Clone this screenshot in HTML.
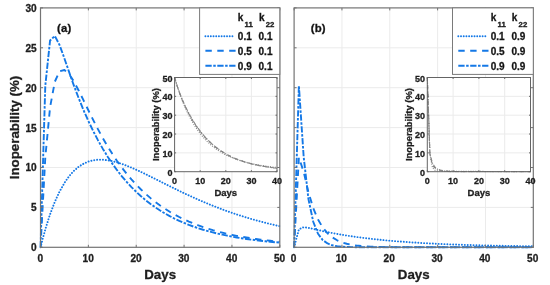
<!DOCTYPE html>
<html><head><meta charset="utf-8"><title>Inoperability</title>
<style>html,body{margin:0;padding:0;background:#fff;}svg{display:block;}</style></head>
<body>
<svg width="550" height="285" viewBox="0 0 550 285">
<rect x="0" y="0" width="550" height="285" fill="#fff"/>
<line x1="88.36" y1="7.9" x2="88.36" y2="247.3" stroke="#ebebeb" stroke-width="1"/>
<line x1="136.22" y1="7.9" x2="136.22" y2="247.3" stroke="#ebebeb" stroke-width="1"/>
<line x1="184.08" y1="7.9" x2="184.08" y2="247.3" stroke="#ebebeb" stroke-width="1"/>
<line x1="231.94" y1="7.9" x2="231.94" y2="247.3" stroke="#ebebeb" stroke-width="1"/>
<line x1="40.5" y1="207.40" x2="279.8" y2="207.40" stroke="#ebebeb" stroke-width="1"/>
<line x1="40.5" y1="167.50" x2="279.8" y2="167.50" stroke="#ebebeb" stroke-width="1"/>
<line x1="40.5" y1="127.60" x2="279.8" y2="127.60" stroke="#ebebeb" stroke-width="1"/>
<line x1="40.5" y1="87.70" x2="279.8" y2="87.70" stroke="#ebebeb" stroke-width="1"/>
<line x1="40.5" y1="47.80" x2="279.8" y2="47.80" stroke="#ebebeb" stroke-width="1"/>
<clipPath id="cpa"><rect x="39.5" y="7.9" width="241.3" height="240.9"/></clipPath>
<polyline clip-path="url(#cpa)" points="40.50,247.30 45.29,229.34 50.07,214.26 54.86,201.69 59.64,191.32 64.43,182.87 69.22,176.08 74.00,170.74 78.79,166.66 83.57,163.66 88.36,161.59 93.15,160.32 97.93,159.74 102.72,159.75 107.50,160.24 112.29,161.15 117.08,162.40 121.86,163.93 126.65,165.70 131.43,167.66 136.22,169.76 141.01,171.97 145.79,174.26 150.58,176.61 155.36,179.00 160.15,181.40 164.94,183.80 169.72,186.19 174.51,188.55 179.29,190.88 184.08,193.17 188.87,195.41 193.65,197.59 198.44,199.72 203.22,201.78 208.01,203.79 212.80,205.73 217.58,207.60 222.37,209.41 227.15,211.15 231.94,212.83 236.73,214.44 241.51,215.98 246.30,217.47 251.08,218.89 255.87,220.25 260.66,221.56 265.44,222.81 270.23,224.00 275.01,225.14 279.80,226.23" fill="none" stroke="#1478E6" stroke-width="1.95" stroke-dasharray="0.01 2.9" stroke-linejoin="round" stroke-linecap="round"/>
<polyline clip-path="url(#cpa)" points="40.50,247.30 45.29,157.53 50.07,107.25 54.86,81.62 59.64,71.21 64.43,70.04 69.22,74.33 74.00,81.73 78.79,90.73 83.57,100.43 88.36,110.26 93.15,119.90 97.93,129.15 102.72,137.92 107.50,146.15 112.29,153.83 117.08,160.98 121.86,167.61 126.65,173.76 131.43,179.44 136.22,184.69 141.01,189.53 145.79,194.01 150.58,198.14 155.36,201.95 160.15,205.47 164.94,208.72 169.72,211.71 174.51,214.47 179.29,217.02 184.08,219.37 188.87,221.54 193.65,223.54 198.44,225.38 203.22,227.08 208.01,228.65 212.80,230.10 217.58,231.43 222.37,232.66 227.15,233.80 231.94,234.85 236.73,235.81 241.51,236.71 246.30,237.53 251.08,238.29 255.87,238.99 260.66,239.63 265.44,240.23 270.23,240.78 275.01,241.28 279.80,241.75" fill="none" stroke="#1478E6" stroke-width="1.9" stroke-dasharray="6.4 5.5" stroke-linejoin="round"/>
<polyline clip-path="url(#cpa)" points="40.50,247.30 45.29,85.71 50.07,40.46 54.86,35.97 59.64,45.18 64.43,58.46 69.22,72.41 74.00,85.88 78.79,98.50 83.57,110.21 88.36,121.02 93.15,130.99 97.93,140.17 102.72,148.63 107.50,156.42 112.29,163.60 117.08,170.21 121.86,176.30 126.65,181.91 131.43,187.07 136.22,191.83 141.01,196.21 145.79,200.24 150.58,203.96 155.36,207.38 160.15,210.53 164.94,213.44 169.72,216.11 174.51,218.58 179.29,220.84 184.08,222.93 188.87,224.86 193.65,226.63 198.44,228.26 203.22,229.77 208.01,231.15 212.80,232.43 217.58,233.60 222.37,234.68 227.15,235.68 231.94,236.60 236.73,237.44 241.51,238.22 246.30,238.94 251.08,239.60 255.87,240.21 260.66,240.77 265.44,241.28 270.23,241.76 275.01,242.20 279.80,242.60" fill="none" stroke="#1478E6" stroke-width="1.9" stroke-dasharray="6.3 1.55 2.5 1.55" stroke-linejoin="round"/>
<rect x="40.5" y="7.9" width="239.3" height="239.4" fill="none" stroke="#747474" stroke-width="1.2"/>
<line x1="40.50" y1="247.3" x2="40.50" y2="244.8" stroke="#747474" stroke-width="1"/>
<line x1="40.50" y1="7.9" x2="40.50" y2="10.4" stroke="#747474" stroke-width="1"/>
<text x="40.30" y="261.9" font-size="10.1" text-anchor="middle" font-family="Liberation Sans, Arial, sans-serif" font-weight="bold" stroke="#1e1e1e" stroke-width="0.3" fill="#1e1e1e">0</text>
<line x1="88.36" y1="247.3" x2="88.36" y2="244.8" stroke="#747474" stroke-width="1"/>
<line x1="88.36" y1="7.9" x2="88.36" y2="10.4" stroke="#747474" stroke-width="1"/>
<text x="88.16" y="261.9" font-size="10.1" text-anchor="middle" font-family="Liberation Sans, Arial, sans-serif" font-weight="bold" stroke="#1e1e1e" stroke-width="0.3" fill="#1e1e1e">10</text>
<line x1="136.22" y1="247.3" x2="136.22" y2="244.8" stroke="#747474" stroke-width="1"/>
<line x1="136.22" y1="7.9" x2="136.22" y2="10.4" stroke="#747474" stroke-width="1"/>
<text x="136.02" y="261.9" font-size="10.1" text-anchor="middle" font-family="Liberation Sans, Arial, sans-serif" font-weight="bold" stroke="#1e1e1e" stroke-width="0.3" fill="#1e1e1e">20</text>
<line x1="184.08" y1="247.3" x2="184.08" y2="244.8" stroke="#747474" stroke-width="1"/>
<line x1="184.08" y1="7.9" x2="184.08" y2="10.4" stroke="#747474" stroke-width="1"/>
<text x="183.88" y="261.9" font-size="10.1" text-anchor="middle" font-family="Liberation Sans, Arial, sans-serif" font-weight="bold" stroke="#1e1e1e" stroke-width="0.3" fill="#1e1e1e">30</text>
<line x1="231.94" y1="247.3" x2="231.94" y2="244.8" stroke="#747474" stroke-width="1"/>
<line x1="231.94" y1="7.9" x2="231.94" y2="10.4" stroke="#747474" stroke-width="1"/>
<text x="231.74" y="261.9" font-size="10.1" text-anchor="middle" font-family="Liberation Sans, Arial, sans-serif" font-weight="bold" stroke="#1e1e1e" stroke-width="0.3" fill="#1e1e1e">40</text>
<line x1="279.80" y1="247.3" x2="279.80" y2="244.8" stroke="#747474" stroke-width="1"/>
<line x1="279.80" y1="7.9" x2="279.80" y2="10.4" stroke="#747474" stroke-width="1"/>
<text x="279.60" y="261.9" font-size="10.1" text-anchor="middle" font-family="Liberation Sans, Arial, sans-serif" font-weight="bold" stroke="#1e1e1e" stroke-width="0.3" fill="#1e1e1e">50</text>
<line x1="40.5" y1="247.30" x2="43.0" y2="247.30" stroke="#747474" stroke-width="1"/>
<line x1="279.8" y1="247.30" x2="277.3" y2="247.30" stroke="#747474" stroke-width="1"/>
<text x="36.70" y="251.20" font-size="10.1" text-anchor="end" font-family="Liberation Sans, Arial, sans-serif" font-weight="bold" stroke="#1e1e1e" stroke-width="0.3" fill="#1e1e1e">0</text>
<line x1="40.5" y1="207.40" x2="43.0" y2="207.40" stroke="#747474" stroke-width="1"/>
<line x1="279.8" y1="207.40" x2="277.3" y2="207.40" stroke="#747474" stroke-width="1"/>
<text x="36.70" y="211.30" font-size="10.1" text-anchor="end" font-family="Liberation Sans, Arial, sans-serif" font-weight="bold" stroke="#1e1e1e" stroke-width="0.3" fill="#1e1e1e">5</text>
<line x1="40.5" y1="167.50" x2="43.0" y2="167.50" stroke="#747474" stroke-width="1"/>
<line x1="279.8" y1="167.50" x2="277.3" y2="167.50" stroke="#747474" stroke-width="1"/>
<text x="36.70" y="171.40" font-size="10.1" text-anchor="end" font-family="Liberation Sans, Arial, sans-serif" font-weight="bold" stroke="#1e1e1e" stroke-width="0.3" fill="#1e1e1e">10</text>
<line x1="40.5" y1="127.60" x2="43.0" y2="127.60" stroke="#747474" stroke-width="1"/>
<line x1="279.8" y1="127.60" x2="277.3" y2="127.60" stroke="#747474" stroke-width="1"/>
<text x="36.70" y="131.50" font-size="10.1" text-anchor="end" font-family="Liberation Sans, Arial, sans-serif" font-weight="bold" stroke="#1e1e1e" stroke-width="0.3" fill="#1e1e1e">15</text>
<line x1="40.5" y1="87.70" x2="43.0" y2="87.70" stroke="#747474" stroke-width="1"/>
<line x1="279.8" y1="87.70" x2="277.3" y2="87.70" stroke="#747474" stroke-width="1"/>
<text x="36.70" y="91.60" font-size="10.1" text-anchor="end" font-family="Liberation Sans, Arial, sans-serif" font-weight="bold" stroke="#1e1e1e" stroke-width="0.3" fill="#1e1e1e">20</text>
<line x1="40.5" y1="47.80" x2="43.0" y2="47.80" stroke="#747474" stroke-width="1"/>
<line x1="279.8" y1="47.80" x2="277.3" y2="47.80" stroke="#747474" stroke-width="1"/>
<text x="36.70" y="51.70" font-size="10.1" text-anchor="end" font-family="Liberation Sans, Arial, sans-serif" font-weight="bold" stroke="#1e1e1e" stroke-width="0.3" fill="#1e1e1e">25</text>
<line x1="40.5" y1="7.90" x2="43.0" y2="7.90" stroke="#747474" stroke-width="1"/>
<line x1="279.8" y1="7.90" x2="277.3" y2="7.90" stroke="#747474" stroke-width="1"/>
<text x="36.70" y="11.80" font-size="10.1" text-anchor="end" font-family="Liberation Sans, Arial, sans-serif" font-weight="bold" stroke="#1e1e1e" stroke-width="0.3" fill="#1e1e1e">30</text>
<text x="160.15" y="279.1" font-size="13.3" text-anchor="middle" font-family="Liberation Sans, Arial, sans-serif" font-weight="bold" stroke="#1e1e1e" stroke-width="0.3" fill="#1e1e1e">Days</text>
<text x="57.10" y="32.2" font-size="11.4" letter-spacing="0.15" font-family="Liberation Sans, Arial, sans-serif" font-weight="bold" stroke="#1e1e1e" stroke-width="0.3" fill="#111">(a)</text>
<rect x="199.60" y="7.9" width="80.20" height="66.50" fill="#fff" stroke="#7a7a7a" stroke-width="1"/>
<text x="237.85" y="21" font-size="10" font-family="Liberation Sans, Arial, sans-serif" font-weight="bold" stroke="#1e1e1e" stroke-width="0.3" fill="#111">k<tspan font-size="7.8" dx="1.2" dy="5.6">11</tspan></text>
<text x="258.95" y="21" font-size="10" font-family="Liberation Sans, Arial, sans-serif" font-weight="bold" stroke="#1e1e1e" stroke-width="0.3" fill="#111">k<tspan font-size="7.8" dx="1.2" dy="5.6">22</tspan></text>
<line x1="205.40" y1="36.2" x2="234.00" y2="36.2" stroke="#1478E6" stroke-width="1.9" stroke-dasharray="0.05 2.65" stroke-linecap="round"/>
<text x="237.85" y="40.0" font-size="10" font-family="Liberation Sans, Arial, sans-serif" font-weight="bold" stroke="#1e1e1e" stroke-width="0.3" fill="#111">0.1</text>
<text x="258.55" y="40.0" font-size="10" font-family="Liberation Sans, Arial, sans-serif" font-weight="bold" stroke="#1e1e1e" stroke-width="0.3" fill="#111">0.1</text>
<line x1="205.40" y1="50.7" x2="235.60" y2="50.7" stroke="#1478E6" stroke-width="2" stroke-dasharray="6.4 5.5"/>
<text x="237.85" y="54.8" font-size="10" font-family="Liberation Sans, Arial, sans-serif" font-weight="bold" stroke="#1e1e1e" stroke-width="0.3" fill="#111">0.5</text>
<text x="258.55" y="54.8" font-size="10" font-family="Liberation Sans, Arial, sans-serif" font-weight="bold" stroke="#1e1e1e" stroke-width="0.3" fill="#111">0.1</text>
<line x1="205.40" y1="65.8" x2="235.60" y2="65.8" stroke="#1478E6" stroke-width="2" stroke-dasharray="6.3 1.55 2.5 1.55"/>
<text x="237.85" y="69.5" font-size="10" font-family="Liberation Sans, Arial, sans-serif" font-weight="bold" stroke="#1e1e1e" stroke-width="0.3" fill="#111">0.9</text>
<text x="258.55" y="69.5" font-size="10" font-family="Liberation Sans, Arial, sans-serif" font-weight="bold" stroke="#1e1e1e" stroke-width="0.3" fill="#111">0.1</text>
<rect x="174.60" y="77.5" width="102.40" height="94.20" fill="#fff"/>
<line x1="200.20" y1="77.5" x2="200.20" y2="171.7" stroke="#ebebeb" stroke-width="1"/>
<line x1="225.80" y1="77.5" x2="225.80" y2="171.7" stroke="#ebebeb" stroke-width="1"/>
<line x1="251.40" y1="77.5" x2="251.40" y2="171.7" stroke="#ebebeb" stroke-width="1"/>
<line x1="174.60" y1="152.86" x2="277.00" y2="152.86" stroke="#ebebeb" stroke-width="1"/>
<line x1="174.60" y1="134.02" x2="277.00" y2="134.02" stroke="#ebebeb" stroke-width="1"/>
<line x1="174.60" y1="115.18" x2="277.00" y2="115.18" stroke="#ebebeb" stroke-width="1"/>
<line x1="174.60" y1="96.34" x2="277.00" y2="96.34" stroke="#ebebeb" stroke-width="1"/>
<clipPath id="cia"><rect x="173.60" y="77.0" width="103.90" height="95.40"/></clipPath>
<polyline clip-path="url(#cia)" points="174.60,77.50 177.16,85.98 179.72,93.63 182.28,100.54 184.84,106.78 187.40,112.43 189.96,117.53 192.52,122.16 195.08,126.34 197.64,130.14 200.20,133.58 202.76,136.71 205.32,139.55 207.88,142.14 210.44,144.49 213.00,146.63 215.56,148.58 218.12,150.36 220.68,151.98 223.24,153.47 225.80,154.83 228.36,156.07 230.92,157.21 233.48,158.26 236.04,159.22 238.60,160.10 241.16,160.91 243.72,161.66 246.28,162.34 248.84,162.98 251.40,163.56 253.96,164.10 256.52,164.60 259.08,165.07 261.64,165.49 264.20,165.89 266.76,166.26 269.32,166.60 271.88,166.92 274.44,167.22 277.00,167.49" fill="none" stroke="#858585" stroke-width="1.15" stroke-dasharray="1 1.4"/>
<polyline clip-path="url(#cia)" points="174.60,77.50 177.16,85.98 179.72,93.38 182.28,99.93 184.84,105.80 187.40,111.11 189.96,115.93 192.52,120.34 195.08,124.38 197.64,128.08 200.20,131.49 202.76,134.62 205.32,137.51 207.88,140.17 210.44,142.62 213.00,144.88 215.56,146.96 218.12,148.88 220.68,150.65 223.24,152.29 225.80,153.79 228.36,155.18 230.92,156.46 233.48,157.65 236.04,158.74 238.60,159.74 241.16,160.67 243.72,161.53 246.28,162.32 248.84,163.05 251.40,163.72 253.96,164.34 256.52,164.91 259.08,165.44 261.64,165.92 264.20,166.37 266.76,166.78 269.32,167.17 271.88,167.52 274.44,167.84 277.00,168.14" fill="none" stroke="#858585" stroke-width="1.15" stroke-dasharray="4 3.4"/>
<polyline clip-path="url(#cia)" points="174.60,77.50 177.16,85.98 179.72,93.12 182.28,99.46 184.84,105.21 187.40,110.48 189.96,115.32 192.52,119.78 195.08,123.88 197.64,127.66 200.20,131.13 202.76,134.34 205.32,137.29 207.88,140.01 210.44,142.51 213.00,144.81 215.56,146.94 218.12,148.89 220.68,150.69 223.24,152.35 225.80,153.88 228.36,155.29 230.92,156.58 233.48,157.78 236.04,158.88 238.60,159.89 241.16,160.82 243.72,161.68 246.28,162.47 248.84,163.20 251.40,163.87 253.96,164.49 256.52,165.06 259.08,165.58 261.64,166.07 264.20,166.51 266.76,166.92 269.32,167.30 271.88,167.65 274.44,167.97 277.00,168.26" fill="none" stroke="#858585" stroke-width="1.15" stroke-dasharray="4 1.4 1.2 1.4"/>
<rect x="174.60" y="77.5" width="102.40" height="94.20" fill="none" stroke="#646464" stroke-width="1"/>
<line x1="174.60" y1="171.7" x2="174.60" y2="170.2" stroke="#646464" stroke-width="1"/>
<line x1="174.60" y1="77.5" x2="174.60" y2="79.0" stroke="#646464" stroke-width="1"/>
<text x="174.60" y="183.9" font-size="9" text-anchor="middle" font-family="Liberation Sans, Arial, sans-serif" font-weight="bold" stroke="#1e1e1e" stroke-width="0.3" fill="#1e1e1e">0</text>
<line x1="200.20" y1="171.7" x2="200.20" y2="170.2" stroke="#646464" stroke-width="1"/>
<line x1="200.20" y1="77.5" x2="200.20" y2="79.0" stroke="#646464" stroke-width="1"/>
<text x="200.20" y="183.9" font-size="9" text-anchor="middle" font-family="Liberation Sans, Arial, sans-serif" font-weight="bold" stroke="#1e1e1e" stroke-width="0.3" fill="#1e1e1e">10</text>
<line x1="225.80" y1="171.7" x2="225.80" y2="170.2" stroke="#646464" stroke-width="1"/>
<line x1="225.80" y1="77.5" x2="225.80" y2="79.0" stroke="#646464" stroke-width="1"/>
<text x="225.80" y="183.9" font-size="9" text-anchor="middle" font-family="Liberation Sans, Arial, sans-serif" font-weight="bold" stroke="#1e1e1e" stroke-width="0.3" fill="#1e1e1e">20</text>
<line x1="251.40" y1="171.7" x2="251.40" y2="170.2" stroke="#646464" stroke-width="1"/>
<line x1="251.40" y1="77.5" x2="251.40" y2="79.0" stroke="#646464" stroke-width="1"/>
<text x="251.40" y="183.9" font-size="9" text-anchor="middle" font-family="Liberation Sans, Arial, sans-serif" font-weight="bold" stroke="#1e1e1e" stroke-width="0.3" fill="#1e1e1e">30</text>
<line x1="277.00" y1="171.7" x2="277.00" y2="170.2" stroke="#646464" stroke-width="1"/>
<line x1="277.00" y1="77.5" x2="277.00" y2="79.0" stroke="#646464" stroke-width="1"/>
<text x="277.00" y="183.9" font-size="9" text-anchor="middle" font-family="Liberation Sans, Arial, sans-serif" font-weight="bold" stroke="#1e1e1e" stroke-width="0.3" fill="#1e1e1e">40</text>
<line x1="174.60" y1="171.70" x2="176.10" y2="171.70" stroke="#646464" stroke-width="1"/>
<line x1="277.00" y1="171.70" x2="275.50" y2="171.70" stroke="#646464" stroke-width="1"/>
<text x="172.40" y="175.70" font-size="9" text-anchor="end" font-family="Liberation Sans, Arial, sans-serif" font-weight="bold" stroke="#1e1e1e" stroke-width="0.3" fill="#1e1e1e">0</text>
<line x1="174.60" y1="152.86" x2="176.10" y2="152.86" stroke="#646464" stroke-width="1"/>
<line x1="277.00" y1="152.86" x2="275.50" y2="152.86" stroke="#646464" stroke-width="1"/>
<text x="172.40" y="156.86" font-size="9" text-anchor="end" font-family="Liberation Sans, Arial, sans-serif" font-weight="bold" stroke="#1e1e1e" stroke-width="0.3" fill="#1e1e1e">10</text>
<line x1="174.60" y1="134.02" x2="176.10" y2="134.02" stroke="#646464" stroke-width="1"/>
<line x1="277.00" y1="134.02" x2="275.50" y2="134.02" stroke="#646464" stroke-width="1"/>
<text x="172.40" y="138.02" font-size="9" text-anchor="end" font-family="Liberation Sans, Arial, sans-serif" font-weight="bold" stroke="#1e1e1e" stroke-width="0.3" fill="#1e1e1e">20</text>
<line x1="174.60" y1="115.18" x2="176.10" y2="115.18" stroke="#646464" stroke-width="1"/>
<line x1="277.00" y1="115.18" x2="275.50" y2="115.18" stroke="#646464" stroke-width="1"/>
<text x="172.40" y="119.18" font-size="9" text-anchor="end" font-family="Liberation Sans, Arial, sans-serif" font-weight="bold" stroke="#1e1e1e" stroke-width="0.3" fill="#1e1e1e">30</text>
<line x1="174.60" y1="96.34" x2="176.10" y2="96.34" stroke="#646464" stroke-width="1"/>
<line x1="277.00" y1="96.34" x2="275.50" y2="96.34" stroke="#646464" stroke-width="1"/>
<text x="172.40" y="100.34" font-size="9" text-anchor="end" font-family="Liberation Sans, Arial, sans-serif" font-weight="bold" stroke="#1e1e1e" stroke-width="0.3" fill="#1e1e1e">40</text>
<line x1="174.60" y1="77.50" x2="176.10" y2="77.50" stroke="#646464" stroke-width="1"/>
<line x1="277.00" y1="77.50" x2="275.50" y2="77.50" stroke="#646464" stroke-width="1"/>
<text x="172.40" y="81.50" font-size="9" text-anchor="end" font-family="Liberation Sans, Arial, sans-serif" font-weight="bold" stroke="#1e1e1e" stroke-width="0.3" fill="#1e1e1e">50</text>
<text x="225.80" y="196.2" font-size="9.5" text-anchor="middle" font-family="Liberation Sans, Arial, sans-serif" font-weight="bold" stroke="#1e1e1e" stroke-width="0.3" fill="#1e1e1e">Days</text>
<text transform="translate(159.00,124.60) rotate(-90)" font-size="9.4" text-anchor="middle" font-family="Liberation Sans, Arial, sans-serif" font-weight="bold" stroke="#1e1e1e" stroke-width="0.3" fill="#1e1e1e">Inoperability (%)</text>
<line x1="341.94" y1="7.9" x2="341.94" y2="247.3" stroke="#ebebeb" stroke-width="1"/>
<line x1="389.78" y1="7.9" x2="389.78" y2="247.3" stroke="#ebebeb" stroke-width="1"/>
<line x1="437.62" y1="7.9" x2="437.62" y2="247.3" stroke="#ebebeb" stroke-width="1"/>
<line x1="485.46" y1="7.9" x2="485.46" y2="247.3" stroke="#ebebeb" stroke-width="1"/>
<line x1="294.1" y1="207.40" x2="533.3" y2="207.40" stroke="#ebebeb" stroke-width="1"/>
<line x1="294.1" y1="167.50" x2="533.3" y2="167.50" stroke="#ebebeb" stroke-width="1"/>
<line x1="294.1" y1="127.60" x2="533.3" y2="127.60" stroke="#ebebeb" stroke-width="1"/>
<line x1="294.1" y1="87.70" x2="533.3" y2="87.70" stroke="#ebebeb" stroke-width="1"/>
<line x1="294.1" y1="47.80" x2="533.3" y2="47.80" stroke="#ebebeb" stroke-width="1"/>
<clipPath id="cpb"><rect x="293.1" y="7.9" width="241.19999999999993" height="240.9"/></clipPath>
<polyline clip-path="url(#cpb)" points="294.10,247.30 298.88,229.34 303.67,227.19 308.45,227.84 313.24,228.94 318.02,230.05 322.80,231.12 327.59,232.12 332.37,233.06 337.16,233.94 341.94,234.77 346.72,235.54 351.51,236.27 356.29,236.95 361.08,237.59 365.86,238.19 370.64,238.76 375.43,239.28 380.21,239.78 385.00,240.25 389.78,240.68 394.56,241.09 399.35,241.48 404.13,241.84 408.92,242.17 413.70,242.49 418.48,242.79 423.27,243.07 428.05,243.33 432.84,243.58 437.62,243.81 442.40,244.02 447.19,244.23 451.97,244.42 456.76,244.59 461.54,244.76 466.32,244.92 471.11,245.07 475.89,245.20 480.68,245.33 485.46,245.46 490.24,245.57 495.03,245.68 499.81,245.78 504.60,245.87 509.38,245.96 514.16,246.04 518.95,246.12 523.73,246.19 528.52,246.26 533.30,246.33" fill="none" stroke="#1478E6" stroke-width="1.95" stroke-dasharray="0.01 2.9" stroke-linejoin="round" stroke-linecap="round"/>
<polyline clip-path="url(#cpb)" points="294.10,247.30 298.88,157.53 303.67,171.89 308.45,192.32 313.24,208.14 318.02,219.52 322.80,227.61 327.59,233.35 332.37,237.42 337.16,240.30 341.94,242.34 346.72,243.78 351.51,244.81 356.29,245.53 361.08,246.05 365.86,246.41 370.64,246.67 375.43,246.85 380.21,246.98 385.00,247.08 389.78,247.14 394.56,247.19 399.35,247.22 404.13,247.24 408.92,247.26 413.70,247.27 418.48,247.28 423.27,247.29 428.05,247.29 432.84,247.29 437.62,247.29 442.40,247.30 447.19,247.30 451.97,247.30 456.76,247.30 461.54,247.30 466.32,247.30 471.11,247.30 475.89,247.30 480.68,247.30 485.46,247.30 490.24,247.30 495.03,247.30 499.81,247.30 504.60,247.30 509.38,247.30 514.16,247.30 518.95,247.30 523.73,247.30 528.52,247.30 533.30,247.30" fill="none" stroke="#1478E6" stroke-width="1.9" stroke-dasharray="6.4 5.5" stroke-linejoin="round"/>
<polyline clip-path="url(#cpb)" points="294.10,247.30 298.88,85.71 303.67,156.81 308.45,199.15 313.24,221.75 318.02,233.74 322.80,240.11 327.59,243.48 332.37,245.28 337.16,246.23 341.94,246.73 346.72,247.00 351.51,247.14 356.29,247.21 361.08,247.25 365.86,247.28 370.64,247.29 375.43,247.29 380.21,247.30 385.00,247.30 389.78,247.30 394.56,247.30 399.35,247.30 404.13,247.30 408.92,247.30 413.70,247.30 418.48,247.30 423.27,247.30 428.05,247.30 432.84,247.30 437.62,247.30 442.40,247.30 447.19,247.30 451.97,247.30 456.76,247.30 461.54,247.30 466.32,247.30 471.11,247.30 475.89,247.30 480.68,247.30 485.46,247.30 490.24,247.30 495.03,247.30 499.81,247.30 504.60,247.30 509.38,247.30 514.16,247.30 518.95,247.30 523.73,247.30 528.52,247.30 533.30,247.30" fill="none" stroke="#1478E6" stroke-width="1.9" stroke-dasharray="6.3 1.55 2.5 1.55" stroke-linejoin="round"/>
<rect x="294.1" y="7.9" width="239.19999999999993" height="239.4" fill="none" stroke="#747474" stroke-width="1.2"/>
<line x1="294.10" y1="247.3" x2="294.10" y2="244.8" stroke="#747474" stroke-width="1"/>
<line x1="294.10" y1="7.9" x2="294.10" y2="10.4" stroke="#747474" stroke-width="1"/>
<text x="293.50" y="261.9" font-size="10.1" text-anchor="middle" font-family="Liberation Sans, Arial, sans-serif" font-weight="bold" stroke="#1e1e1e" stroke-width="0.3" fill="#1e1e1e">0</text>
<line x1="341.94" y1="247.3" x2="341.94" y2="244.8" stroke="#747474" stroke-width="1"/>
<line x1="341.94" y1="7.9" x2="341.94" y2="10.4" stroke="#747474" stroke-width="1"/>
<text x="341.34" y="261.9" font-size="10.1" text-anchor="middle" font-family="Liberation Sans, Arial, sans-serif" font-weight="bold" stroke="#1e1e1e" stroke-width="0.3" fill="#1e1e1e">10</text>
<line x1="389.78" y1="247.3" x2="389.78" y2="244.8" stroke="#747474" stroke-width="1"/>
<line x1="389.78" y1="7.9" x2="389.78" y2="10.4" stroke="#747474" stroke-width="1"/>
<text x="389.18" y="261.9" font-size="10.1" text-anchor="middle" font-family="Liberation Sans, Arial, sans-serif" font-weight="bold" stroke="#1e1e1e" stroke-width="0.3" fill="#1e1e1e">20</text>
<line x1="437.62" y1="247.3" x2="437.62" y2="244.8" stroke="#747474" stroke-width="1"/>
<line x1="437.62" y1="7.9" x2="437.62" y2="10.4" stroke="#747474" stroke-width="1"/>
<text x="437.02" y="261.9" font-size="10.1" text-anchor="middle" font-family="Liberation Sans, Arial, sans-serif" font-weight="bold" stroke="#1e1e1e" stroke-width="0.3" fill="#1e1e1e">30</text>
<line x1="485.46" y1="247.3" x2="485.46" y2="244.8" stroke="#747474" stroke-width="1"/>
<line x1="485.46" y1="7.9" x2="485.46" y2="10.4" stroke="#747474" stroke-width="1"/>
<text x="484.86" y="261.9" font-size="10.1" text-anchor="middle" font-family="Liberation Sans, Arial, sans-serif" font-weight="bold" stroke="#1e1e1e" stroke-width="0.3" fill="#1e1e1e">40</text>
<line x1="533.30" y1="247.3" x2="533.30" y2="244.8" stroke="#747474" stroke-width="1"/>
<line x1="533.30" y1="7.9" x2="533.30" y2="10.4" stroke="#747474" stroke-width="1"/>
<text x="532.70" y="261.9" font-size="10.1" text-anchor="middle" font-family="Liberation Sans, Arial, sans-serif" font-weight="bold" stroke="#1e1e1e" stroke-width="0.3" fill="#1e1e1e">50</text>
<line x1="294.1" y1="247.30" x2="296.6" y2="247.30" stroke="#747474" stroke-width="1"/>
<line x1="533.3" y1="247.30" x2="530.8" y2="247.30" stroke="#747474" stroke-width="1"/>
<line x1="294.1" y1="207.40" x2="296.6" y2="207.40" stroke="#747474" stroke-width="1"/>
<line x1="533.3" y1="207.40" x2="530.8" y2="207.40" stroke="#747474" stroke-width="1"/>
<line x1="294.1" y1="167.50" x2="296.6" y2="167.50" stroke="#747474" stroke-width="1"/>
<line x1="533.3" y1="167.50" x2="530.8" y2="167.50" stroke="#747474" stroke-width="1"/>
<line x1="294.1" y1="127.60" x2="296.6" y2="127.60" stroke="#747474" stroke-width="1"/>
<line x1="533.3" y1="127.60" x2="530.8" y2="127.60" stroke="#747474" stroke-width="1"/>
<line x1="294.1" y1="87.70" x2="296.6" y2="87.70" stroke="#747474" stroke-width="1"/>
<line x1="533.3" y1="87.70" x2="530.8" y2="87.70" stroke="#747474" stroke-width="1"/>
<line x1="294.1" y1="47.80" x2="296.6" y2="47.80" stroke="#747474" stroke-width="1"/>
<line x1="533.3" y1="47.80" x2="530.8" y2="47.80" stroke="#747474" stroke-width="1"/>
<line x1="294.1" y1="7.90" x2="296.6" y2="7.90" stroke="#747474" stroke-width="1"/>
<line x1="533.3" y1="7.90" x2="530.8" y2="7.90" stroke="#747474" stroke-width="1"/>
<text x="413.70" y="279.1" font-size="13.3" text-anchor="middle" font-family="Liberation Sans, Arial, sans-serif" font-weight="bold" stroke="#1e1e1e" stroke-width="0.3" fill="#1e1e1e">Days</text>
<text x="310.70" y="32.2" font-size="11.4" letter-spacing="0.15" font-family="Liberation Sans, Arial, sans-serif" font-weight="bold" stroke="#1e1e1e" stroke-width="0.3" fill="#111">(b)</text>
<rect x="452.50" y="7.9" width="80.80" height="66.50" fill="#fff" stroke="#7a7a7a" stroke-width="1"/>
<text x="490.75" y="21" font-size="10" font-family="Liberation Sans, Arial, sans-serif" font-weight="bold" stroke="#1e1e1e" stroke-width="0.3" fill="#111">k<tspan font-size="7.8" dx="1.2" dy="5.6">11</tspan></text>
<text x="511.85" y="21" font-size="10" font-family="Liberation Sans, Arial, sans-serif" font-weight="bold" stroke="#1e1e1e" stroke-width="0.3" fill="#111">k<tspan font-size="7.8" dx="1.2" dy="5.6">22</tspan></text>
<line x1="458.30" y1="36.2" x2="486.90" y2="36.2" stroke="#1478E6" stroke-width="1.9" stroke-dasharray="0.05 2.65" stroke-linecap="round"/>
<text x="490.75" y="40.0" font-size="10" font-family="Liberation Sans, Arial, sans-serif" font-weight="bold" stroke="#1e1e1e" stroke-width="0.3" fill="#111">0.1</text>
<text x="511.45" y="40.0" font-size="10" font-family="Liberation Sans, Arial, sans-serif" font-weight="bold" stroke="#1e1e1e" stroke-width="0.3" fill="#111">0.9</text>
<line x1="458.30" y1="50.7" x2="488.50" y2="50.7" stroke="#1478E6" stroke-width="2" stroke-dasharray="6.4 5.5"/>
<text x="490.75" y="54.8" font-size="10" font-family="Liberation Sans, Arial, sans-serif" font-weight="bold" stroke="#1e1e1e" stroke-width="0.3" fill="#111">0.5</text>
<text x="511.45" y="54.8" font-size="10" font-family="Liberation Sans, Arial, sans-serif" font-weight="bold" stroke="#1e1e1e" stroke-width="0.3" fill="#111">0.9</text>
<line x1="458.30" y1="65.8" x2="488.50" y2="65.8" stroke="#1478E6" stroke-width="2" stroke-dasharray="6.3 1.55 2.5 1.55"/>
<text x="490.75" y="69.5" font-size="10" font-family="Liberation Sans, Arial, sans-serif" font-weight="bold" stroke="#1e1e1e" stroke-width="0.3" fill="#111">0.9</text>
<text x="511.45" y="69.5" font-size="10" font-family="Liberation Sans, Arial, sans-serif" font-weight="bold" stroke="#1e1e1e" stroke-width="0.3" fill="#111">0.9</text>
<rect x="427.30" y="77.5" width="103.20" height="94.20" fill="#fff"/>
<line x1="453.10" y1="77.5" x2="453.10" y2="171.7" stroke="#ebebeb" stroke-width="1"/>
<line x1="478.90" y1="77.5" x2="478.90" y2="171.7" stroke="#ebebeb" stroke-width="1"/>
<line x1="504.70" y1="77.5" x2="504.70" y2="171.7" stroke="#ebebeb" stroke-width="1"/>
<line x1="427.30" y1="152.86" x2="530.50" y2="152.86" stroke="#ebebeb" stroke-width="1"/>
<line x1="427.30" y1="134.02" x2="530.50" y2="134.02" stroke="#ebebeb" stroke-width="1"/>
<line x1="427.30" y1="115.18" x2="530.50" y2="115.18" stroke="#ebebeb" stroke-width="1"/>
<line x1="427.30" y1="96.34" x2="530.50" y2="96.34" stroke="#ebebeb" stroke-width="1"/>
<clipPath id="cib"><rect x="426.30" y="77.0" width="104.70" height="95.40"/></clipPath>
<polyline clip-path="url(#cib)" points="427.30,77.50 429.88,153.80 432.46,167.73 435.04,170.30 437.62,170.81 440.20,170.95 442.78,171.01 445.36,171.05 447.94,171.09 450.52,171.13 453.10,171.17 455.68,171.20 458.26,171.23 460.84,171.26 463.42,171.29 466.00,171.31 468.58,171.34 471.16,171.36 473.74,171.38 476.32,171.40 478.90,171.42 481.48,171.44 484.06,171.45 486.64,171.47 489.22,171.48 491.80,171.50 494.38,171.51 496.96,171.52 499.54,171.53 502.12,171.54 504.70,171.55 507.28,171.56 509.86,171.57 512.44,171.58 515.02,171.58 517.60,171.59 520.18,171.60 522.76,171.60 525.34,171.61 527.92,171.62 530.50,171.62" fill="none" stroke="#858585" stroke-width="1.15" stroke-dasharray="1 1.4"/>
<polyline clip-path="url(#cib)" points="427.30,77.50 429.88,153.80 432.46,165.44 435.04,168.11 437.62,169.26 440.20,169.99 442.78,170.49 445.36,170.84 447.94,171.09 450.52,171.27 453.10,171.39 455.68,171.48 458.26,171.55 460.84,171.59 463.42,171.62 466.00,171.65 468.58,171.66 471.16,171.67 473.74,171.68 476.32,171.69 478.90,171.69 481.48,171.69 484.06,171.70 486.64,171.70 489.22,171.70 491.80,171.70 494.38,171.70 496.96,171.70 499.54,171.70 502.12,171.70 504.70,171.70 507.28,171.70 509.86,171.70 512.44,171.70 515.02,171.70 517.60,171.70 520.18,171.70 522.76,171.70 525.34,171.70 527.92,171.70 530.50,171.70" fill="none" stroke="#858585" stroke-width="1.15" stroke-dasharray="4 3.4"/>
<polyline clip-path="url(#cib)" points="427.30,77.50 429.88,153.80 432.46,163.15 435.04,167.19 437.62,169.31 440.20,170.43 442.78,171.03 445.36,171.34 447.94,171.51 450.52,171.60 453.10,171.65 455.68,171.67 458.26,171.68 460.84,171.69 463.42,171.70 466.00,171.70 468.58,171.70 471.16,171.70 473.74,171.70 476.32,171.70 478.90,171.70 481.48,171.70 484.06,171.70 486.64,171.70 489.22,171.70 491.80,171.70 494.38,171.70 496.96,171.70 499.54,171.70 502.12,171.70 504.70,171.70 507.28,171.70 509.86,171.70 512.44,171.70 515.02,171.70 517.60,171.70 520.18,171.70 522.76,171.70 525.34,171.70 527.92,171.70 530.50,171.70" fill="none" stroke="#858585" stroke-width="1.15" stroke-dasharray="4 1.4 1.2 1.4"/>
<rect x="427.30" y="77.5" width="103.20" height="94.20" fill="none" stroke="#646464" stroke-width="1"/>
<line x1="427.30" y1="171.7" x2="427.30" y2="170.2" stroke="#646464" stroke-width="1"/>
<line x1="427.30" y1="77.5" x2="427.30" y2="79.0" stroke="#646464" stroke-width="1"/>
<text x="427.30" y="183.9" font-size="9" text-anchor="middle" font-family="Liberation Sans, Arial, sans-serif" font-weight="bold" stroke="#1e1e1e" stroke-width="0.3" fill="#1e1e1e">0</text>
<line x1="453.10" y1="171.7" x2="453.10" y2="170.2" stroke="#646464" stroke-width="1"/>
<line x1="453.10" y1="77.5" x2="453.10" y2="79.0" stroke="#646464" stroke-width="1"/>
<text x="453.10" y="183.9" font-size="9" text-anchor="middle" font-family="Liberation Sans, Arial, sans-serif" font-weight="bold" stroke="#1e1e1e" stroke-width="0.3" fill="#1e1e1e">10</text>
<line x1="478.90" y1="171.7" x2="478.90" y2="170.2" stroke="#646464" stroke-width="1"/>
<line x1="478.90" y1="77.5" x2="478.90" y2="79.0" stroke="#646464" stroke-width="1"/>
<text x="478.90" y="183.9" font-size="9" text-anchor="middle" font-family="Liberation Sans, Arial, sans-serif" font-weight="bold" stroke="#1e1e1e" stroke-width="0.3" fill="#1e1e1e">20</text>
<line x1="504.70" y1="171.7" x2="504.70" y2="170.2" stroke="#646464" stroke-width="1"/>
<line x1="504.70" y1="77.5" x2="504.70" y2="79.0" stroke="#646464" stroke-width="1"/>
<text x="504.70" y="183.9" font-size="9" text-anchor="middle" font-family="Liberation Sans, Arial, sans-serif" font-weight="bold" stroke="#1e1e1e" stroke-width="0.3" fill="#1e1e1e">30</text>
<line x1="530.50" y1="171.7" x2="530.50" y2="170.2" stroke="#646464" stroke-width="1"/>
<line x1="530.50" y1="77.5" x2="530.50" y2="79.0" stroke="#646464" stroke-width="1"/>
<text x="530.50" y="183.9" font-size="9" text-anchor="middle" font-family="Liberation Sans, Arial, sans-serif" font-weight="bold" stroke="#1e1e1e" stroke-width="0.3" fill="#1e1e1e">40</text>
<line x1="427.30" y1="171.70" x2="428.80" y2="171.70" stroke="#646464" stroke-width="1"/>
<line x1="530.50" y1="171.70" x2="529.00" y2="171.70" stroke="#646464" stroke-width="1"/>
<text x="425.10" y="175.70" font-size="9" text-anchor="end" font-family="Liberation Sans, Arial, sans-serif" font-weight="bold" stroke="#1e1e1e" stroke-width="0.3" fill="#1e1e1e">0</text>
<line x1="427.30" y1="152.86" x2="428.80" y2="152.86" stroke="#646464" stroke-width="1"/>
<line x1="530.50" y1="152.86" x2="529.00" y2="152.86" stroke="#646464" stroke-width="1"/>
<text x="425.10" y="156.86" font-size="9" text-anchor="end" font-family="Liberation Sans, Arial, sans-serif" font-weight="bold" stroke="#1e1e1e" stroke-width="0.3" fill="#1e1e1e">10</text>
<line x1="427.30" y1="134.02" x2="428.80" y2="134.02" stroke="#646464" stroke-width="1"/>
<line x1="530.50" y1="134.02" x2="529.00" y2="134.02" stroke="#646464" stroke-width="1"/>
<text x="425.10" y="138.02" font-size="9" text-anchor="end" font-family="Liberation Sans, Arial, sans-serif" font-weight="bold" stroke="#1e1e1e" stroke-width="0.3" fill="#1e1e1e">20</text>
<line x1="427.30" y1="115.18" x2="428.80" y2="115.18" stroke="#646464" stroke-width="1"/>
<line x1="530.50" y1="115.18" x2="529.00" y2="115.18" stroke="#646464" stroke-width="1"/>
<text x="425.10" y="119.18" font-size="9" text-anchor="end" font-family="Liberation Sans, Arial, sans-serif" font-weight="bold" stroke="#1e1e1e" stroke-width="0.3" fill="#1e1e1e">30</text>
<line x1="427.30" y1="96.34" x2="428.80" y2="96.34" stroke="#646464" stroke-width="1"/>
<line x1="530.50" y1="96.34" x2="529.00" y2="96.34" stroke="#646464" stroke-width="1"/>
<text x="425.10" y="100.34" font-size="9" text-anchor="end" font-family="Liberation Sans, Arial, sans-serif" font-weight="bold" stroke="#1e1e1e" stroke-width="0.3" fill="#1e1e1e">40</text>
<line x1="427.30" y1="77.50" x2="428.80" y2="77.50" stroke="#646464" stroke-width="1"/>
<line x1="530.50" y1="77.50" x2="529.00" y2="77.50" stroke="#646464" stroke-width="1"/>
<text x="425.10" y="81.50" font-size="9" text-anchor="end" font-family="Liberation Sans, Arial, sans-serif" font-weight="bold" stroke="#1e1e1e" stroke-width="0.3" fill="#1e1e1e">50</text>
<text x="478.90" y="196.2" font-size="9.5" text-anchor="middle" font-family="Liberation Sans, Arial, sans-serif" font-weight="bold" stroke="#1e1e1e" stroke-width="0.3" fill="#1e1e1e">Days</text>
<text transform="translate(411.70,124.60) rotate(-90)" font-size="9.4" text-anchor="middle" font-family="Liberation Sans, Arial, sans-serif" font-weight="bold" stroke="#1e1e1e" stroke-width="0.3" fill="#1e1e1e">Inoperability (%)</text>
<text transform="translate(19.1,127.5) rotate(-90)" font-size="13.3" text-anchor="middle" font-family="Liberation Sans, Arial, sans-serif" font-weight="bold" stroke="#1e1e1e" stroke-width="0.3" fill="#1e1e1e">Inoperability (%)</text>
</svg>
</body></html>
